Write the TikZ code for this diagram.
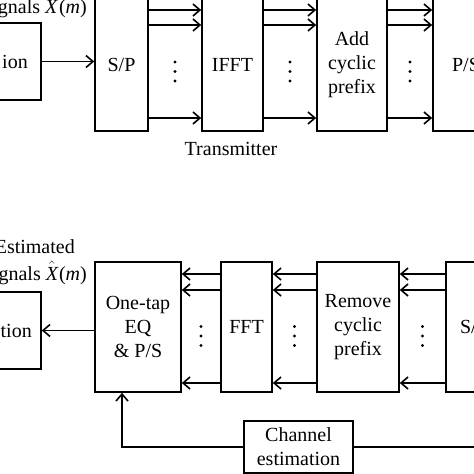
\documentclass[tikz,border=0pt]{standalone}
\usepackage{fontspec}
\setmainfont{Liberation Serif}
\usetikzlibrary{arrows.meta,calc}

\tikzset{
  blk/.style={draw, line width=1.6pt, inner sep=0pt, align=center,
    font=\fontsize{20}{24}\selectfont},
  lbl/.style={inner sep=0pt, font=\fontsize{20}{24}\selectfont},
  wire/.style={line width=1.6pt},
  sig/.style={wire, -{Straight Barb[length=7pt,width=12pt]}},
}

\begin{document}
\begin{tikzpicture}[x=1pt,y=-1pt]
\useasboundingbox (0,0) rectangle (474,474);
\clip (0,0) rectangle (474,474);
% box from left/right/top/bottom edges
\newcommand{\blkat}[6]{
  \node[blk, minimum width={#3-(#2)}, minimum height={#5-(#4)}]
    (#1) at ({(#2+#3)/2},{(#4+#5)/2}) {#6};
}
\newcommand{\dotsat}[3]{
  \foreach \d in {-9.5,0,9.5}
    \fill ($(#1.east)!.5!(#2.west)$) ++(0,{#3+\d}) circle (1.6);
}

% rows of the parallel branches
\foreach \y [count=\i] in {10,25,118} \coordinate (t\i) at (0,\y);
\foreach \y [count=\i] in {274,290,383} \coordinate (r\i) at (0,\y);

% Transmitter
\blkat{mod}{-60}{41}{23}{100}{}
\blkat{sp}{95}{148}{-1}{131}{S/P}
\blkat{ifft}{202}{263}{-1}{131}{IFFT}
\blkat{acp}{317}{387}{-1}{131}{Add\\cyclic\\prefix}
\blkat{ps}{433}{499}{-1}{131}{P/S}

\node[lbl, anchor=base east] (modtxt) at (28,68) {ion};
\node[lbl, anchor=base east] (sigtx) at (87,13) {gnals \textit{X}\kern1pt(\textit{m})};
\node[lbl, anchor=base] (tx) at (231,155) {Transmitter};

\draw[sig] (mod.east) -- (sp.west |- mod.east);
\foreach \a/\b in {sp/ifft,ifft/acp,acp/ps} {
  \foreach \i in {1,2,3}
    \draw[sig] (\a.east |- t\i) -- (\b.west |- t\i);
  \dotsat{\a}{\b}{6.5}
}

% Receiver
\blkat{demod}{-60}{41}{292}{369}{}
\blkat{eq}{95}{181}{262}{392}{One-tap\\EQ\\\& P/S}
\blkat{fft}{221}{272}{262}{392}{FFT}
\blkat{rcp}{317}{399}{262}{392}{Remove\\cyclic\\prefix}
\blkat{sprx}{446}{502}{262}{392}{S/P}
\blkat{chest}{244}{353}{421}{473}{Channel\\estimation}

\node[lbl, anchor=base east] (demodtxt) at (32,337) {tion};
\node[lbl, anchor=base east] (est) at (75,253) {Estimated};
\node[lbl, anchor=base east] (sigrx) at (87,280) {gnals $\hat{\textit{X}}$\kern1pt(\textit{m})};

\draw[sig] (eq.west |- demod.east) -- (demod.east);
\foreach \a/\b in {eq/fft,fft/rcp,rcp/sprx} {
  \foreach \i in {1,2,3}
    \draw[sig] (\b.west |- r\i) -- (\a.east |- r\i);
  \dotsat{\a}{\b}{9}
}

% channel estimate fed back to the equaliser
\coordinate (fb) at (122,447);
\coordinate (fbr) at (480,447);
\draw[sig] (chest.west) -- (fb) -- (fb |- eq.south);
\draw[wire] (chest.east) -- (fbr);
\end{tikzpicture}
\end{document}
